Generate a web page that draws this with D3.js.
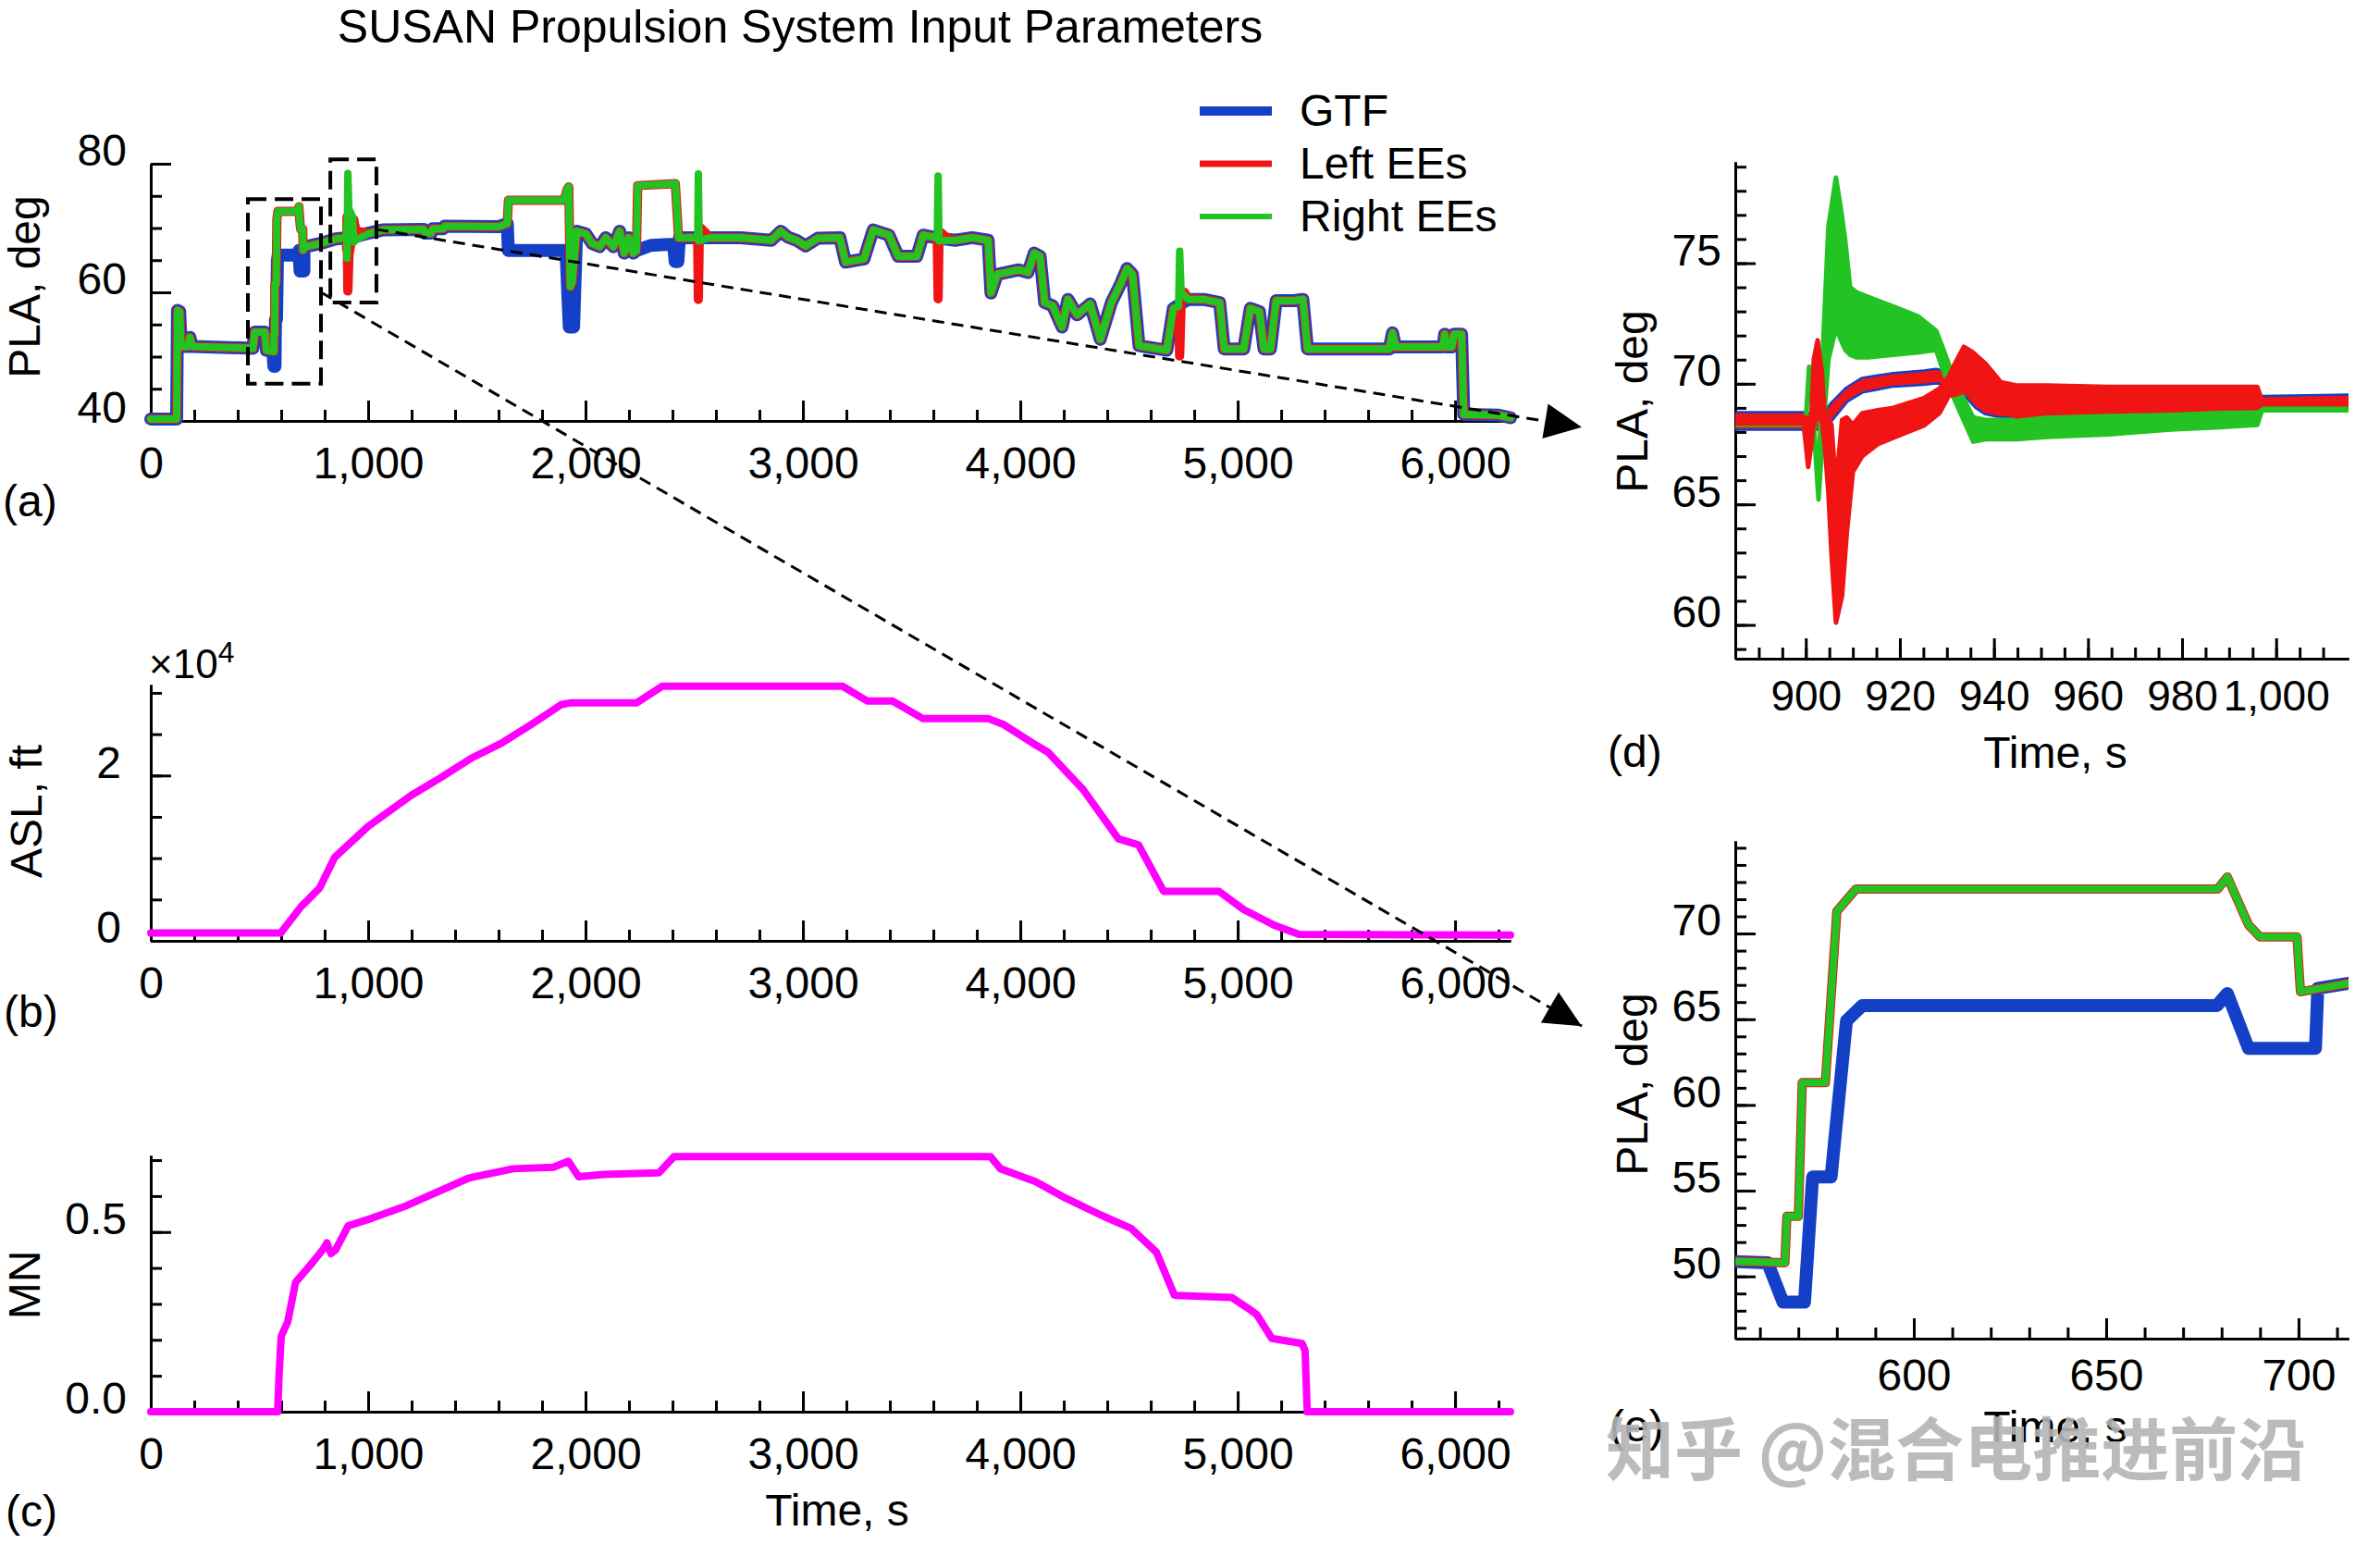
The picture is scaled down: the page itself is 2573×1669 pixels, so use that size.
<!DOCTYPE html>
<html>
<head>
<meta charset="utf-8">
<script src="https://cdn.jsdelivr.net/npm/d3@7"></script>
<style>
  body { margin: 0; background: #fff; }
  svg { display: block; font-family: "Liberation Sans", Arial, sans-serif; }
</style>
</head>
<body>
<svg id="chart"></svg>
<script>
/* global d3 */

// ---------- data: PLA (deg) vs time (s), full mission ----------
const gtfPla = [
  [0,40.3],[119,40.3],[123,57.2],[133,57.0],[140,51.6],[172,51.6],[180,53.0],[190,51.6],
  [470,51.3],[478,53.8],[525,53.8],[532,51.0],[562,50.8],[566,48.5],[571.6,48.5],[573.7,55.8],
  [578.5,55.8],[582.5,64.9],[586.6,65.8],[678.8,65.8],[681.5,66.5],[687,63.3],[704.4,63.3],
  [705,66.8],[713,67.1],[780,67.6],[850,68.3],[900,68.5],[905,68.5],[912,69.5],[921,70.1],
  [929,70.4],[934,69.8],[940,69.0],[946,68.7],[1000,69.2],[1066,69.7],[1255,69.8],[1262,69.2],
  [1290,69.2],[1297,69.9],[1345,69.9],[1352,70.3],[1600,70.2],[1640,70.7],[1645,66.5],
  [1910,66.5],[1925,54.6],[1945,54.6],[1959,69.5],[2001,69.1],[2030,67.6],[2065,67.1],
  [2093,68.5],[2128,67.1],[2157,69.5],[2178,66.1],[2199,68.5],[2220,66.1],[2234,66.5],
  [2300,67.3],[2405,67.5],[2412,64.8],[2425,64.8],[2432,68.5],[2510,68.5],[2573,68.5],
  [2714,68.5],[2855,68.1],[2898,69.5],[2930,68.6],[2970,68.1],[3012,67.2],[3068,68.4],
  [3170,68.5],[3196,64.7],[3281,65.2],[3323,69.7],[3396,68.9],[3438,65.6],[3524,65.6],
  [3553,68.9],[3610,68.5],[3700,68.1],[3779,68.5],[3852,68.1],[3865,59.9],[3894,62.8],
  [3993,63.5],[4035,63.1],[4064,66.1],[4091,65.6],[4112,58.4],[4149,57.9],[4192,54.6],
  [4219,58.9],[4261,56.5],[4321,58.2],[4368,52.7],[4419,58.4],[4461,61.3],[4491,63.7],
  [4516,62.8],[4546,51.7],[4674,51.0],[4704,57.5],[4772,58.9],[4844,58.9],[4917,58.4],
  [4938,51.2],[5028,51.2],[5058,57.5],[5100,57.0],[5121,51.2],[5151,51.2],[5177,58.7],
  [5257,58.7],[5300,58.9],[5321,51.2],[5697,51.2],[5712,53.7],[5727,51.5],[5945,51.5],
  [5952,53.5],[5962,51.5],[5985,51.5],[5995,53.5],[6030,53.5],[6040,41.0],[6200,40.9],[6255,40.5]
];
const leftPla = [
  [0,40.3],[119,40.3],[123,57.2],[133,57.0],[140,51.6],[172,51.6],[180,53.0],[190,51.6],
  [470,51.3],[478,53.8],[525,53.8],[532,51.0],[566.5,50.8],[567,53.5],[570,53.5],[571,61.3],
  [577,61.3],[580,71.3],[585,72.6],[679,72.6],[681.5,73.3],[687,70.5],[690,69.8],[699.6,69.8],
  [700.5,66.6],[713,67.1],[780,67.6],[850,68.3],[900,68.5],[901,66.7],[902.6,71.7],[906.6,60.2],
  [912,66.0],[925,68.3],[931,70.0],[934,71.3],[940,70.0],[950,69.5],[1000,69.2],[1066,69.7],
  [1255,69.8],[1262,69.2],[1290,69.2],[1297,69.9],[1345,69.9],[1352,70.3],[1600,70.2],
  [1640,70.7],[1645,74.3],[1902,74.3],[1915,76.0],[1923,76.4],[1930,60.9],[1938,61.5],
  [1959,69.5],[2001,69.1],[2030,67.6],[2065,67.1],[2093,68.5],[2128,67.1],[2157,69.5],
  [2178,66.1],[2199,68.5],[2220,66.1],[2234,66.5],[2240,76.6],[2413,76.9],[2428,68.5],
  [2510,68.5],[2516,68.0],[2519,58.9],[2523,68.5],[2530,70.0],[2545,69.5],[2573,68.5],
  [2714,68.5],[2855,68.1],[2898,69.5],[2930,68.6],[2970,68.1],[3012,67.2],[3068,68.4],
  [3170,68.5],[3196,64.7],[3281,65.2],[3323,69.7],[3396,68.9],[3438,65.6],[3524,65.6],
  [3553,68.9],[3610,68.5],[3618,68.0],[3622,59.0],[3626,68.5],[3635,69.3],[3660,68.5],
  [3700,68.1],[3779,68.5],[3852,68.1],[3865,59.9],[3894,62.8],[3993,63.5],[4035,63.1],
  [4064,66.1],[4091,65.6],[4112,58.4],[4149,57.9],[4192,54.6],[4219,58.9],[4261,56.5],
  [4321,58.2],[4368,52.7],[4419,58.4],[4461,61.3],[4491,63.7],[4516,62.8],[4546,51.7],
  [4674,51.0],[4704,57.5],[4728,57.0],[4733,50.1],[4740,58.5],[4755,60.0],[4772,59.0],
  [4844,58.9],[4917,58.4],[4938,51.2],[5028,51.2],[5058,57.5],[5100,57.0],[5121,51.2],
  [5151,51.2],[5177,58.7],[5257,58.7],[5300,58.9],[5321,51.2],[5697,51.2],[5712,53.7],
  [5727,51.5],[5945,51.5],[5952,53.5],[5962,51.5],[5985,51.5],[5995,53.5],[6030,53.5],
  [6040,41.0],[6200,40.9],[6255,40.5]
];
const rightPla = [
  [0,40.3],[119,40.3],[123,57.2],[133,57.0],[140,51.6],[172,51.6],[180,53.0],[190,51.6],
  [470,51.3],[478,53.8],[525,53.8],[532,51.0],[566.5,50.8],[567,53.5],[570,53.5],[571,61.3],
  [577,61.3],[580,71.3],[585,72.6],[679,72.6],[681.5,73.3],[687,70.5],[690,69.8],[699.6,69.8],
  [700.5,66.6],[713,67.1],[780,67.6],[850,68.3],[900,68.5],[901,70.6],[903,65.3],[906.6,78.5],
  [911,73.0],[928,71.8],[935,67.8],[945,68.2],[1000,69.1],[1066,69.7],[1255,69.8],[1262,69.2],
  [1290,69.2],[1297,69.9],[1345,69.9],[1352,70.3],[1600,70.2],[1640,70.7],[1645,74.3],
  [1902,74.3],[1915,76.0],[1923,76.4],[1930,60.9],[1938,61.5],[1959,69.5],[2001,69.1],
  [2030,67.6],[2065,67.1],[2093,68.5],[2128,67.1],[2157,69.5],[2178,66.1],[2199,68.5],
  [2220,66.1],[2234,66.5],[2240,76.6],[2413,76.9],[2428,68.5],[2510,68.5],[2516,69.0],
  [2519,78.4],[2523,68.0],[2573,68.5],[2714,68.5],[2855,68.1],[2898,69.5],[2930,68.6],
  [2970,68.1],[3012,67.2],[3068,68.4],[3170,68.5],[3196,64.7],[3281,65.2],[3323,69.7],
  [3396,68.9],[3438,65.6],[3524,65.6],[3553,68.9],[3610,68.5],[3618,69.0],[3622,78.1],
  [3626,68.0],[3700,68.1],[3779,68.5],[3852,68.1],[3865,59.9],[3894,62.8],[3993,63.5],
  [4035,63.1],[4064,66.1],[4091,65.6],[4112,58.4],[4149,57.9],[4192,54.6],[4219,58.9],
  [4261,56.5],[4321,58.2],[4368,52.7],[4419,58.4],[4461,61.3],[4491,63.7],[4516,62.8],
  [4546,51.7],[4674,51.0],[4704,57.5],[4728,57.8],[4733,66.4],[4740,60.0],[4772,58.9],
  [4844,58.9],[4917,58.4],[4938,51.2],[5028,51.2],[5058,57.5],[5100,57.0],[5121,51.2],
  [5151,51.2],[5177,58.7],[5257,58.7],[5300,58.9],[5321,51.2],[5697,51.2],[5712,53.7],
  [5727,51.5],[5945,51.5],[5952,53.5],[5962,51.5],[5985,51.5],[5995,53.5],[6030,53.5],
  [6040,41.0],[6200,40.9],[6255,40.5]
];

// zoom (d): bands of engine traces, [time, low, high]
const gtfBandD = [
  [885,68.14,68.78],[899.5,68.14,68.78],[903.5,68.14,68.6],[905.45,68.52,69.16],
  [908.7,69.3,69.8],[912,69.68,70.2],[918.6,69.93,70.4],[925.1,70.0,70.5],[927.7,70.06,70.57],
  [930.4,70.0,70.44],[933.6,69.6,70.06],[936.2,69.04,69.7],[938.2,68.78,69.42],
  [941.5,68.65,68.8],[996,69.1,69.3],[997,69.15,69.45],[1015.4,69.2,69.5]
];
const leftBandD = [
  [885,68.35,68.6],[899.5,68.35,68.6],[900,67.5,68.6],[900.5,66.55,68.4],[901.2,67.5,68.7],
  [901.7,68.5,71.0],[902.5,68.6,71.8],[903.4,68.5,70.5],[904,67.5,68.7],[904.8,65.5,68.5],
  [905.45,63.0,68.3],[906.4,60.1,65.7],[907.7,61.2,68.5],[908.7,63.8,68.6],[910,66.35,68.3],
  [912,67.0,68.78],[915.3,67.5,68.9],[918.6,67.76,69.0],[925.1,68.27,69.4],[928.4,68.78,69.8],
  [930.4,69.5,70.3],[931.7,69.55,70.83],[933.6,69.68,71.53],[935.5,69.5,71.3],
  [938.2,69.2,70.83],[941.5,68.85,70.06],[944.8,68.65,69.93],[951.3,68.78,69.93],
  [964.4,68.85,69.87],[977.6,68.9,69.87],[988,68.98,69.87],[996,69.0,69.87],
  [997,69.15,69.3],[1015.4,69.15,69.3]
];
const rightBandD = [
  [885,68.3,68.5],[900,68.3,68.5],[900.7,70.7,70.7],[901.5,68.8,69.0],[902.7,65.2,65.4],
  [903.3,67.0,70.0],[904.8,71.0,76.5],[906.4,72.3,78.55],[907.5,71.8,77.2],[908.4,71.4,75.9],
  [909.4,71.2,74.0],[910.7,71.1,73.8],[913.3,71.1,73.6],[918.6,71.2,73.2],[923.8,71.3,72.8],
  [927.7,71.4,72.2],[929.1,70.6,71.5],[931.7,69.3,70.1],[935.6,67.6,68.6],[938.2,67.7,68.5],
  [944.8,67.7,68.5],[951.3,67.8,68.6],[964.4,67.9,68.7],[977.6,68.1,68.9],[988,68.2,69.0],
  [996,68.3,69.05],[997,68.9,69.05],[1015.4,68.9,69.1]
];

// altitude above sea level (ft) and Mach number
const aslFt = [
  [0,950],[598,950],[690,4100],[777,6400],[846,10100],[1000,13850],[1198,17600],[1337,19800],
  [1475,22100],[1613,23900],[1752,26200],[1890,28600],[1936,28800],[2236,28800],[2352,30800],
  [3182,30800],[3297,29000],[3413,29000],[3551,26900],[3851,26900],[3921,26200],[4058,23900],
  [4128,22800],[4289,18300],[4451,12350],[4544,11600],[4659,6000],[4913,6000],[5028,3770],
  [5167,1900],[5282,780],[6255,700]
];
const machNo = [
  [0,0],[584,0],[590,0.10],[600,0.21],[630,0.25],[666,0.36],[737,0.41],[794,0.453],[810,0.47],
  [829,0.44],[850,0.45],[908,0.517],[1020,0.539],[1163,0.57],[1462,0.65],[1667,0.676],
  [1852,0.68],[1921,0.697],[1968,0.654],[2084,0.66],[2338,0.665],[2407,0.71],[3862,0.71],
  [3909,0.676],[4070,0.64],[4209,0.594],[4371,0.547],[4510,0.51],[4626,0.444],[4709,0.324],
  [4972,0.318],[5042,0.29],[5088,0.27],[5157,0.204],[5296,0.19],[5310,0.17],[5320,0],[6255,0]
];

// tick labels
const timeTicks = [0, 1000, 2000, 3000, 4000, 5000, 6000];
const plaTicksA = [40, 60, 80];
const aslTicks = [0, 20000];
const machTicks = [0, 0.5];
const timeTicksD = [900, 920, 940, 960, 980, 1000];
const plaTicksD = [60, 65, 70, 75];
const timeTicksE = [600, 650, 700];
const plaTicksE = [50, 55, 60, 65, 70];

const seriesNames = ["GTF", "Left EEs", "Right EEs"];

// ---------- setup ----------
const BLUE = "#1440c8", RED = "#f01414", GREEN = "#22c322", MAGENTA = "#ff00ff";
const W = 2573, H = 1669;
const svg = d3.select("#chart").attr("width", W).attr("height", H);
const defs = svg.append("defs");

const makePanel = (box, xDom, yDom) => {
  const x = d3.scaleLinear().domain(xDom).range([box.left, box.right]);
  const y = d3.scaleLinear().domain(yDom).range([box.bottom, box.top]);
  const g = svg.append("g");
  return { g, x, y, box };
};

const pA = makePanel({ left: 163, right: 1633, top: 177, bottom: 455 }, [0, 6255], [40, 80]);
const pB = makePanel({ left: 163, right: 1633, top: 740, bottom: 1017 }, [0, 6255], [0, 31000]);
const pC = makePanel({ left: 163, right: 1633, top: 1249, bottom: 1526 }, [0, 6255], [0, 0.713]);
const pD = makePanel({ left: 1876, right: 2539, top: 175, bottom: 712 }, [885, 1015.4], [58.6, 79.2]);
const pE = makePanel({ left: 1876, right: 2539, top: 909, bottom: 1447 }, [553.6, 713], [46.37, 75.4]);

// axes with inward major + minor ticks
function drawAxes(p, c) {
  const bottom = p.box.bottom, left = p.box.left;
  const gx = p.g.append("g").attr("transform", "translate(0," + bottom + ")");
  gx.call(d3.axisBottom(p.x).tickValues(c.xMinor).tickSize(-12).tickSizeOuter(0).tickFormat(""));
  gx.append("g").call(d3.axisBottom(p.x).tickValues(c.xMajor).tickSize(-22).tickSizeOuter(0)
    .tickPadding(c.xPad).tickFormat(c.xFmt));

  const gy = p.g.append("g").attr("transform", "translate(" + left + ",0)");
  gy.call(d3.axisLeft(p.y).tickValues(c.yMinor).tickSize(-12).tickSizeOuter(0).tickFormat(""));
  gy.append("g").call(d3.axisLeft(p.y).tickValues(c.yMajor).tickSize(-22).tickSizeOuter(0)
    .tickPadding(c.yPad).tickFormat(c.yFmt));

  p.g.selectAll("g").attr("font-family", null).attr("font-size", 48);
  p.g.selectAll(".tick line, .domain").attr("stroke", "#000").attr("stroke-width", 3);
  p.g.selectAll(".tick text").attr("fill", "#000");
  gy.selectAll(".tick text").attr("dy", "0.04em");
  if (c.xSize) gx.selectAll(".tick text").attr("font-size", c.xSize);
}

const fmtComma = d3.format(",");
drawAxes(pA, { xMinor: d3.range(0, 6255, 200), xMajor: timeTicks, xPad: 28, xFmt: fmtComma,
  yMinor: d3.range(40, 80.1, 5), yMajor: plaTicksA, yPad: 26, yFmt: d3.format("d") });
drawAxes(pB, { xMinor: d3.range(0, 6255, 200), xMajor: timeTicks, xPad: 28, xFmt: fmtComma,
  yMinor: d3.range(0, 30001, 5000), yMajor: aslTicks, yPad: 32, yFmt: (d) => d / 1e4 });
drawAxes(pC, { xMinor: d3.range(0, 6255, 200), xMajor: timeTicks, xPad: 28, xFmt: fmtComma,
  yMinor: d3.range(0, 0.71, 0.1), yMajor: machTicks, yPad: 26, yFmt: d3.format(".1f") });
drawAxes(pD, { xMinor: d3.range(890, 1015, 5), xMajor: timeTicksD, xPad: 23, xFmt: fmtComma,
  yMinor: d3.range(59, 79.1, 1), yMajor: plaTicksD, yPad: 15, yFmt: d3.format("d"), xSize: 46 });
drawAxes(pE, { xMinor: d3.range(560, 713, 10), xMajor: timeTicksE, xPad: 22, xFmt: fmtComma,
  yMinor: d3.range(47, 75.1, 1), yMajor: plaTicksE, yPad: 15, yFmt: d3.format("d") });

// clip for zoom panels
[pD, pE].forEach((p, i) => {
  const id = "clip" + i;
  defs.append("clipPath").attr("id", id).append("rect")
    .attr("x", p.box.left).attr("y", p.box.top - 60)
    .attr("width", p.box.right - p.box.left).attr("height", p.box.bottom - p.box.top + 60);
  p.clip = "url(#" + id + ")";
});

const lineOf = (p) => d3.line().x((d) => p.x(d[0])).y((d) => p.y(d[1]));
const styleLine = (sel, color, w) =>
  sel.attr("fill", "none").attr("stroke", color).attr("stroke-width", w)
    .attr("stroke-linejoin", "round").attr("stroke-linecap", "round");

// (a) and (e): three PLA traces
[pA, pE].forEach((p) => {
  const lg = p.g.append("g");
  if (p.clip) lg.attr("clip-path", p.clip);
  const ln = lineOf(p);
  styleLine(lg.append("path").attr("d", ln(gtfPla)), BLUE, 14);
  styleLine(lg.append("path").attr("d", ln(leftPla)), RED, 10);
  styleLine(lg.append("path").attr("d", ln(rightPla)), GREEN, 8);
});

// (d): bands
{
  const band = d3.area().x((d) => pD.x(d[0])).y0((d) => pD.y(d[1])).y1((d) => pD.y(d[2]));
  const lg = pD.g.append("g").attr("clip-path", pD.clip);
  styleLine(lg.append("path").attr("d", band(gtfBandD)), BLUE, 5).attr("fill", BLUE);
  // left EE traces that run inside the GTF band
  lg.append("path").attr("d", band(gtfBandD)).attr("fill", RED);
  styleLine(lg.append("path").attr("d", band(rightBandD)), GREEN, 5).attr("fill", GREEN);
  styleLine(lg.append("path").attr("d", band(leftBandD)), RED, 5).attr("fill", RED);
}

// (b), (c)
styleLine(pB.g.append("path").attr("d", lineOf(pB)(aslFt)), MAGENTA, 8);
styleLine(pC.g.append("path").attr("d", lineOf(pC)(machNo)), MAGENTA, 8);

// ---------- text ----------
const txt = (x, y, s, opts = {}) =>
  svg.append("text").attr("x", x).attr("y", y).attr("font-size", opts.size || 48)
    .attr("text-anchor", opts.anchor || "start").attr("fill", "#000").text(s);
const vtxt = (x, y, s) =>
  svg.append("text").attr("transform", "translate(" + x + "," + y + ") rotate(-90)")
    .attr("font-size", 48).attr("text-anchor", "middle").text(s);

txt(865, 46, "SUSAN Propulsion System Input Parameters", { anchor: "middle", size: 50 });
vtxt(43, 310, "PLA, deg");
vtxt(45, 877, "ASL, ft");
vtxt(43, 1389, "MN");
vtxt(1781, 434, "PLA, deg");
vtxt(1781, 1172, "PLA, deg");
txt(3, 558, "(a)");
txt(4, 1110, "(b)");
txt(6, 1650, "(c)");
txt(1738, 829, "(d)");
txt(1740, 1558, "(e)");
txt(905, 1649, "Time, s", { anchor: "middle" });
txt(2222, 830, "Time, s", { anchor: "middle" });
txt(2222, 1559, "Time, s", { anchor: "middle" });

const mult = svg.append("text").attr("x", pB.box.left - 2).attr("y", pB.box.top - 7).attr("font-size", 44);
mult.append("tspan").text("\u00d710");
mult.append("tspan").attr("font-size", 32).attr("dy", -17).text("4");

// legend
const legColors = [BLUE, RED, GREEN], legW = [10, 7, 6];
seriesNames.forEach((n, i) => {
  const y = 120 + i * 57;
  svg.append("line").attr("x1", 1297).attr("x2", 1375).attr("y1", y).attr("y2", y)
    .attr("stroke", legColors[i]).attr("stroke-width", legW[i]);
  txt(1405, y + 16, n);
});

// ---------- zoom boxes and connectors ----------
const boxes = [
  { t0: 447, t1: 783, v0: 45.8, v1: 74.5 },
  { t0: 826, t1: 1038, v0: 58.4, v1: 80.7 }
];
boxes.forEach((b) => {
  svg.append("rect").attr("x", pA.x(b.t0)).attr("y", pA.y(b.v1))
    .attr("width", pA.x(b.t1) - pA.x(b.t0)).attr("height", pA.y(b.v0) - pA.y(b.v1))
    .attr("fill", "none").attr("stroke", "#000").attr("stroke-width", 4)
    .attr("stroke-dasharray", "20 9");
});

defs.append("marker").attr("id", "arrow").attr("markerUnits", "userSpaceOnUse")
  .attr("markerWidth", 44).attr("markerHeight", 44).attr("viewBox", "0 -22 42 44")
  .attr("refX", 40).attr("refY", 0).attr("orient", "auto")
  .append("path").attr("d", "M0,-19L40,0L0,19Z").attr("fill", "#000");

const connectors = [
  [[pA.x(1038), pA.y(69.8)], [pD.box.left - 166, pD.y(68.2)]],
  [[pA.x(783), pA.y(60.0)], [pE.box.left - 166, pE.y(64.6)]]
];
connectors.forEach(([a, b]) => {
  svg.append("line").attr("x1", a[0]).attr("y1", a[1]).attr("x2", b[0]).attr("y2", b[1])
    .attr("stroke", "#000").attr("stroke-width", 3).attr("stroke-dasharray", "13 8")
    .attr("marker-end", "url(#arrow)");
});

// watermark
svg.append("text").attr("x", 1736).attr("y", 1594).attr("font-size", 74).attr("font-weight", 700)
  .attr("font-family", "'Noto Sans CJK SC', sans-serif").attr("fill", "#b4b4b4").attr("fill-opacity", 0.9)
  .text("知乎 @混合电推进前沿");
</script>
</body>
</html>
